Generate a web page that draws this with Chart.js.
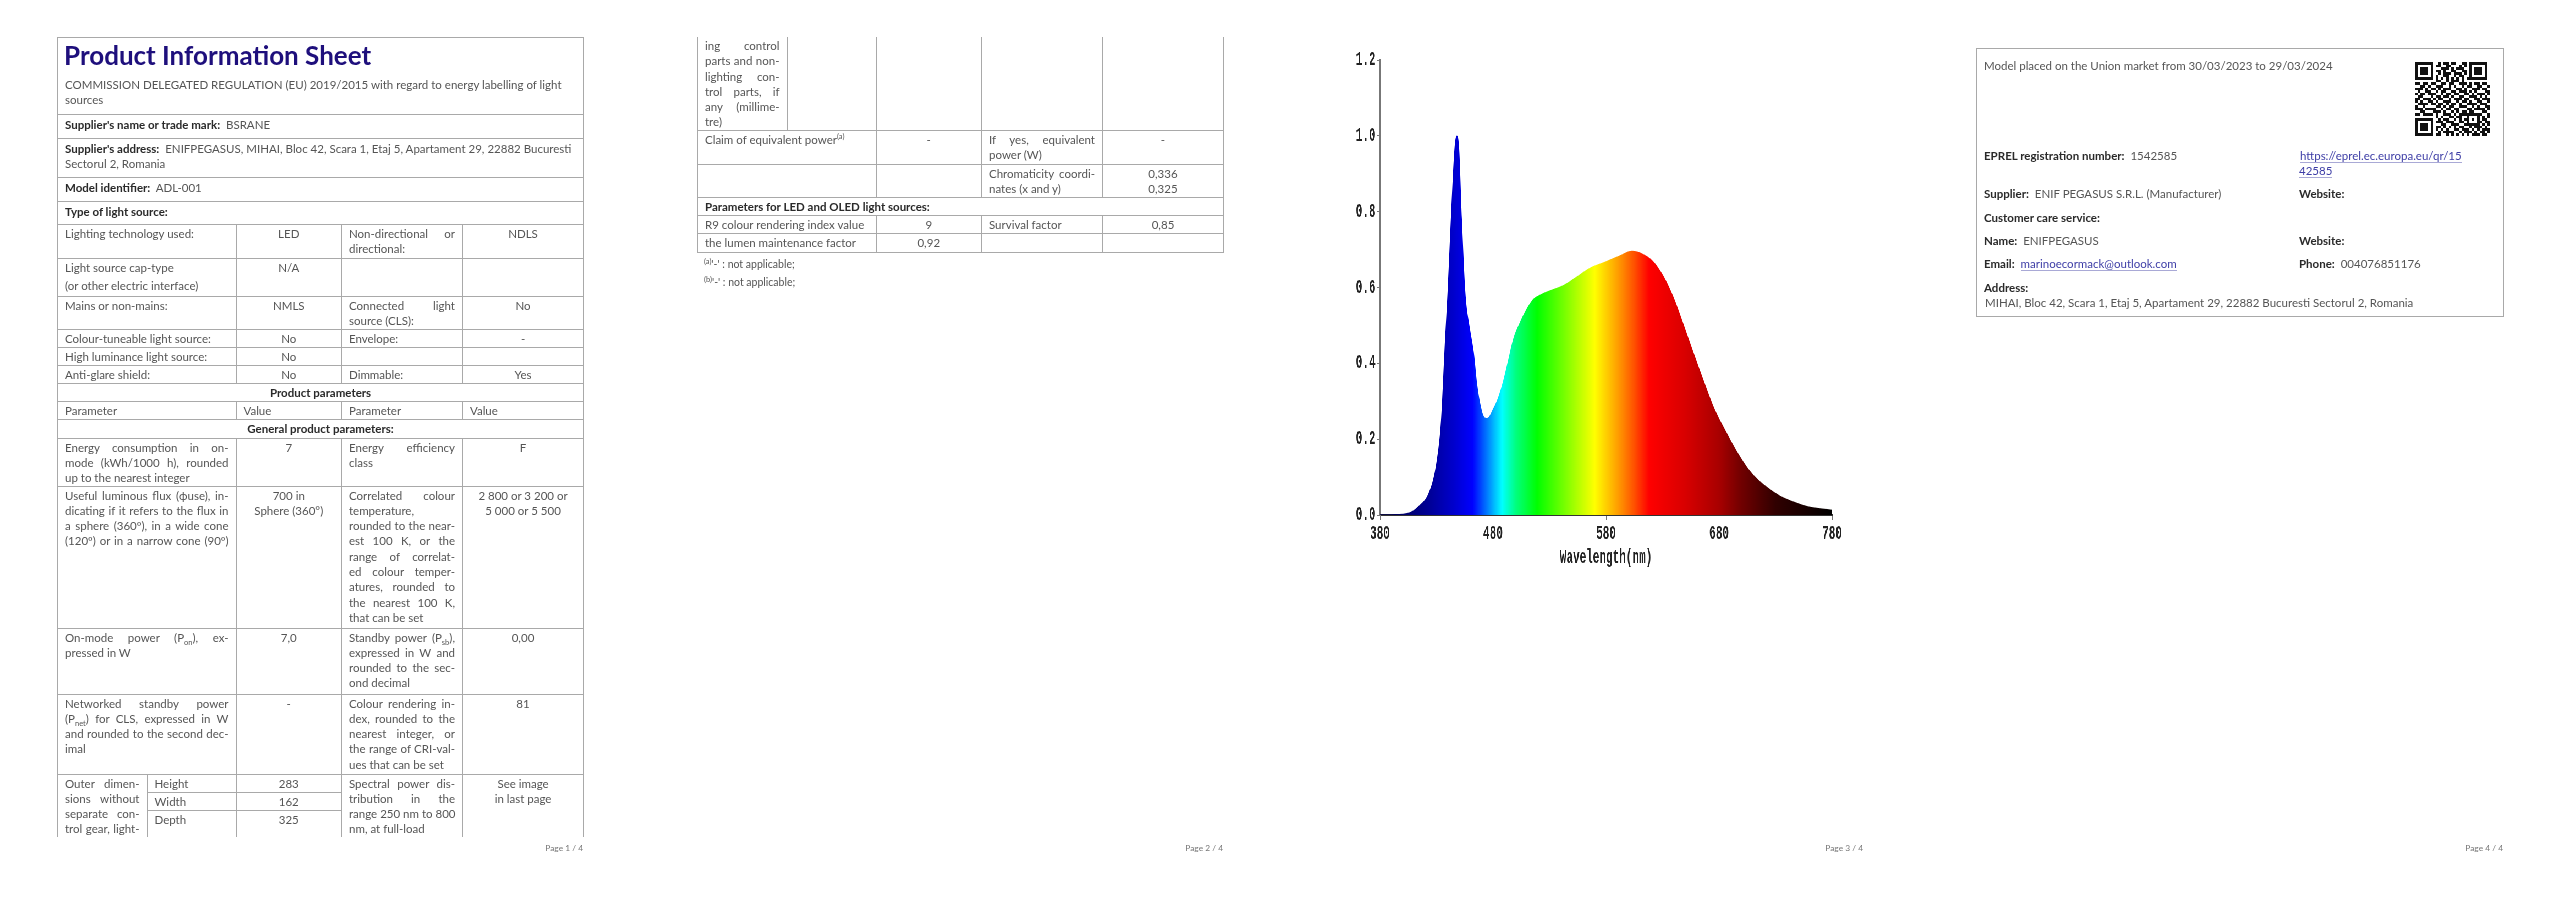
<!DOCTYPE html>
<html>
<head>
<meta charset="utf-8">
<title>Product Information Sheet</title>
<script src="https://cdn.jsdelivr.net/npm/chart.js@4"></script>
<style>
  html, body { margin: 0; padding: 0; background: #fff; width: 2560px; height: 905px; overflow: hidden; }
  #sheet { position: relative; width: 2560px; height: 905px; filter: blur(.4px);
           font: 11.5px/15.3px Lato, "Open Sans", sans-serif; color: #555; }
  .abs { position: absolute; white-space: nowrap; }
  b { color: #2a2a2a; font-weight: 700; }
  table { position: absolute; border-collapse: collapse; table-layout: fixed; width: 526px; }
  td { border: 1px solid #a9a9a9; padding: 1px 7px 0; vertical-align: top; overflow: hidden; white-space: nowrap; }
  .c { text-align: center; }
  .j { display: block; text-align: justify; text-align-last: justify; }
  .wide td { padding-top: 2px; }
  .open { border-top: none; }
  .noend td { border-bottom: none; }
  sub, sup { font-size: 7.5px; line-height: 0; }
  .page-no { font-size: 8.4px; color: #777; }
  #title { font-size: 26px; line-height: 32px; font-weight: 700; color: #1e0f7c; margin: -1px 0 6px -1px; }
  a { color: #3d3da6; text-decoration: none; border-bottom: 1px solid #a9a9d6; }
  #box { position: absolute; left: 1976px; top: 48px; width: 526px; height: 267px; border: 1px solid #a9a9a9; }
  #chart-wrap { position: absolute; left: 1320px; top: 46px; width: 1004px; height: 524px;
                transform: scaleX(.55); transform-origin: 0 0; }
  #qr { position: absolute; left: 2415px; top: 62px; width: 75px; height: 74px; }
</style>
</head>
<body>
<div id="sheet">

  <!-- page 1 -->
  <table style="left:57px;top:37px">
    <colgroup><col style="width:89.5px"><col style="width:89px"><col style="width:105.5px"><col style="width:121px"><col style="width:121px"></colgroup>
    <tr class="wide" style="height:77px"><td colspan="5"><div id="title">Product Information Sheet</div>COMMISSION DELEGATED REGULATION (EU) 2019/2015 with regard to energy labelling of light<br>sources</td></tr>
    <tr class="wide" style="height:24px"><td colspan="5"><b>Supplier's name or trade mark:</b>&nbsp; BSRANE</td></tr>
    <tr class="wide" style="height:39px"><td colspan="5"><b>Supplier's address:</b>&nbsp; ENIFPEGASUS, MIHAI, Bloc 42, Scara 1, Etaj 5, Apartament 29, 22882 Bucuresti<br>Sectorul 2, Romania</td></tr>
    <tr class="wide" style="height:24px"><td colspan="5"><b>Model identifier:</b>&nbsp; ADL-001</td></tr>
    <tr class="wide" style="height:23px"><td colspan="5"><b>Type of light source:</b></td></tr>
    <tr style="height:34px"><td colspan="2">Lighting technology used:</td><td class="c">LED</td><td><span class="j">Non-directional or</span>directional:</td><td class="c">NDLS</td></tr>
    <tr style="height:38px"><td colspan="2" style="line-height:18.4px;padding-top:0">Light source cap-type<br>(or other electric interface)</td><td class="c">N/A</td><td></td><td></td></tr>
    <tr style="height:32px"><td colspan="2">Mains or non-mains:</td><td class="c">NMLS</td><td><span class="j">Connected light</span>source (CLS):</td><td class="c">No</td></tr>
    <tr style="height:18px"><td colspan="2">Colour-tuneable light source:</td><td class="c">No</td><td>Envelope:</td><td class="c">-</td></tr>
    <tr style="height:18px"><td colspan="2">High luminance light source:</td><td class="c">No</td><td></td><td></td></tr>
    <tr style="height:18px"><td colspan="2">Anti-glare shield:</td><td class="c">No</td><td>Dimmable:</td><td class="c">Yes</td></tr>
    <tr style="height:18px"><td colspan="5" class="c"><b>Product parameters</b></td></tr>
    <tr style="height:18px"><td colspan="2">Parameter</td><td>Value</td><td>Parameter</td><td>Value</td></tr>
    <tr style="height:19px"><td colspan="5" class="c"><b>General product parameters:</b></td></tr>
    <tr style="height:48px"><td colspan="2"><span class="j">Energy consumption in on-</span><span class="j">mode (kWh/1000 h), rounded</span>up to the nearest integer</td><td class="c">7</td><td><span class="j">Energy efficiency</span>class</td><td class="c">F</td></tr>
    <tr style="height:142px"><td colspan="2"><span class="j">Useful luminous flux (&#981;use), in-</span><span class="j">dicating if it refers to the flux in</span><span class="j">a sphere (360&ordm;), in a wide cone</span><span class="j">(120&ordm;) or in a narrow cone (90&ordm;)</span></td><td class="c">700 in<br>Sphere (360&deg;)</td><td><span class="j">Correlated colour</span>temperature,<br><span class="j">rounded to the near-</span><span class="j">est 100 K, or the</span><span class="j">range of correlat-</span><span class="j">ed colour temper-</span><span class="j">atures, rounded to</span><span class="j">the nearest 100 K,</span>that can be set</td><td class="c">2 800 or 3 200 or<br>5 000 or 5 500</td></tr>
    <tr style="height:66px"><td colspan="2"><span class="j">On-mode power (P<sub>on</sub>), ex-</span>pressed in W</td><td class="c">7,0</td><td><span class="j">Standby power (P<sub>sb</sub>),</span><span class="j">expressed in W and</span><span class="j">rounded to the sec-</span>ond decimal</td><td class="c">0,00</td></tr>
    <tr style="height:80px"><td colspan="2"><span class="j">Networked standby power</span><span class="j">(P<sub>net</sub>) for CLS, expressed in W</span><span class="j">and rounded to the second dec-</span>imal</td><td class="c">-</td><td><span class="j">Colour rendering in-</span><span class="j">dex, rounded to the</span><span class="j">nearest integer, or</span><span class="j">the range of CRI-val-</span>ues that can be set</td><td class="c">81</td></tr>
    <tr class="noend" style="height:18px"><td rowspan="3"><span class="j">Outer dimen-</span><span class="j">sions without</span><span class="j">separate con-</span><span class="j">trol gear, light-</span></td><td>Height</td><td class="c">283</td><td rowspan="3"><span class="j">Spectral power dis-</span><span class="j">tribution in the</span><span class="j">range 250 nm to 800</span>nm, at full-load</td><td rowspan="3" class="c">See image<br>in last page</td></tr>
    <tr style="height:18px"><td>Width</td><td class="c">162</td></tr>
    <tr class="noend" style="height:26px"><td style="border-top:1px solid #a9a9a9">Depth</td><td class="c" style="border-top:1px solid #a9a9a9">325</td></tr>
  </table>
  <div class="abs page-no" style="right:1977px;top:841px">Page 1 / 4</div>

  <!-- page 2 -->
  <table style="left:697px;top:37px">
    <colgroup><col style="width:89.5px"><col style="width:89px"><col style="width:105.5px"><col style="width:121px"><col style="width:121px"></colgroup>
    <tr style="height:93px"><td class="open"><span class="j">ing control</span><span class="j">parts and non-</span><span class="j">lighting con-</span><span class="j">trol parts, if</span><span class="j">any (millime-</span>tre)</td><td class="open"></td><td class="open"></td><td class="open"></td><td class="open"></td></tr>
    <tr style="height:34px"><td colspan="2">Claim of equivalent power<sup>(a)</sup></td><td class="c">-</td><td><span class="j">If yes, equivalent</span>power (W)</td><td class="c">-</td></tr>
    <tr style="height:33px"><td colspan="2"></td><td></td><td><span class="j">Chromaticity coordi-</span>nates (x and y)</td><td class="c">0,336<br>0,325</td></tr>
    <tr style="height:18px"><td colspan="5"><b>Parameters for LED and OLED light sources:</b></td></tr>
    <tr style="height:18px"><td colspan="2">R9 colour rendering index value</td><td class="c">9</td><td>Survival factor</td><td class="c">0,85</td></tr>
    <tr style="height:19px"><td colspan="2">the lumen maintenance factor</td><td class="c">0,92</td><td></td><td></td></tr>
  </table>
  <div class="abs" style="left:704px;top:257px;font-size:10.5px"><sup>(a)</sup>'-' : not applicable;</div>
  <div class="abs" style="left:704px;top:275px;font-size:10.5px"><sup>(b)</sup>'-' : not applicable;</div>
  <div class="abs page-no" style="right:1337px;top:841px">Page 2 / 4</div>

  <!-- page 3 -->
  <div id="chart-wrap"><canvas id="spectrumChart" width="1004" height="524"></canvas></div>
  <div class="abs page-no" style="right:697px;top:841px">Page 3 / 4</div>

  <!-- page 4 -->
  <div id="box"></div>
  <div class="abs" style="left:1984px;top:58px">Model placed on the Union market from 30/03/2023 to 29/03/2024</div>
  <canvas id="qr" width="29" height="29" style="image-rendering:pixelated"></canvas>
  <div class="abs" style="left:1984px;top:148px"><b>EPREL registration number:</b>&nbsp; 1542585</div>
  <div class="abs" style="left:2300px;top:148px"><a>https://eprel.ec.europa.eu/qr/15</a></div>
  <div class="abs" style="left:2299px;top:163px"><a>42585</a></div>
  <div class="abs" style="left:1984px;top:186px"><b>Supplier:</b>&nbsp; ENIF PEGASUS S.R.L. (Manufacturer)</div>
  <div class="abs" style="left:2299px;top:186px"><b>Website:</b></div>
  <div class="abs" style="left:1984px;top:210px"><b>Customer care service:</b></div>
  <div class="abs" style="left:1984px;top:233px"><b>Name:</b>&nbsp; ENIFPEGASUS</div>
  <div class="abs" style="left:2299px;top:233px"><b>Website:</b></div>
  <div class="abs" style="left:1984px;top:256px"><b>Email:</b>&nbsp; <a>marinoecormack@outlook.com</a></div>
  <div class="abs" style="left:2299px;top:256px"><b>Phone:</b>&nbsp; 004076851176</div>
  <div class="abs" style="left:1984px;top:280px"><b>Address:</b></div>
  <div class="abs" style="left:1985px;top:295px">MIHAI, Bloc 42, Scara 1, Etaj 5, Apartament 29, 22882 Bucuresti Sectorul 2, Romania</div>
  <div class="abs page-no" style="right:57px;top:841px">Page 4 / 4</div>
</div>

<script>
// Spectral power distribution
const wavelengths = [380, 390, 404, 414, 424, 430, 434, 437, 440, 443, 446, 448, 450, 452.5, 455.5, 459.5, 463, 466, 469, 472, 475, 480, 484.5, 489, 493.5, 498, 503, 509, 515, 521, 530, 542, 554.5, 567, 579, 591, 603, 612, 621.5, 631, 640, 649, 658, 667, 676, 685.5, 695, 704, 713, 722, 734, 746.5, 758.5, 771, 780];
const spectralPower = [0.002, 0.002, 0.005, 0.023, 0.065, 0.14, 0.25, 0.43, 0.6, 0.8, 0.97, 1.0, 0.97, 0.78, 0.59, 0.494, 0.43, 0.345, 0.29, 0.26, 0.256, 0.28, 0.31, 0.354, 0.41, 0.466, 0.503, 0.54, 0.568, 0.58, 0.592, 0.606, 0.63, 0.654, 0.668, 0.683, 0.697, 0.69, 0.67, 0.63, 0.573, 0.5, 0.424, 0.35, 0.28, 0.224, 0.172, 0.13, 0.098, 0.075, 0.051, 0.035, 0.023, 0.017, 0.014];

// Colour under the curve at given wavelengths
const bandNm = [380, 425, 445, 462, 472, 480, 488, 500, 519, 545, 570, 590, 605, 618, 650, 680, 700, 730, 780];
const bandColor = ['#000040', '#00009a', '#0000cc', '#0000ff', '#0060ff', '#00b0ff', '#00ffff', '#00ff80', '#00ff00', '#80ff00', '#ffff00', '#ffa000', '#ff5000', '#ff0000', '#d80000', '#a80000', '#700000', '#300000', '#000000'];

const spectrumFill = (ctx) => {
  const { chart } = ctx;
  if (!chart.chartArea) return '#00f';
  const x = chart.scales.x;
  const g = chart.ctx.createLinearGradient(x.left, 0, x.right, 0);
  bandNm.forEach((nm, i) => g.addColorStop((nm - 380) / 400, bandColor[i]));
  return g;
};

const axisFont = { family: '"Liberation Mono", monospace', size: 20, weight: 'bold' };

new Chart(document.getElementById('spectrumChart'), {
  type: 'line',
  data: {
    datasets: [{
      data: wavelengths.map((w, i) => ({ x: w, y: spectralPower[i] })),
      backgroundColor: spectrumFill,
      borderWidth: 0,
      pointRadius: 0,
      fill: 'origin',
      cubicInterpolationMode: 'monotone'
    }]
  },
  options: {
    responsive: false,
    animation: false,
    layout: { padding: { top: 10, right: 73 } },
    plugins: { legend: { display: false }, tooltip: { enabled: false } },
    scales: {
      x: {
        type: 'linear', min: 380, max: 780,
        ticks: { stepSize: 100, color: '#222', font: axisFont, padding: 2, maxRotation: 0 },
        grid: { drawOnChartArea: false, color: '#777', tickLength: 5 },
        border: { color: '#333', width: 2 },
        title: { display: true, text: 'Wavelength(nm)', color: '#222', font: axisFont, padding: { top: 2, bottom: 0 } },
        afterFit: (s) => { s.height = 55; }
      },
      y: {
        min: 0, max: 1.2,
        ticks: { stepSize: 0.2, color: '#222', font: axisFont, padding: 2, callback: (v) => v.toFixed(1) },
        grid: { drawOnChartArea: false, color: '#777', tickLength: 6 },
        border: { color: '#777', width: 3 },
        afterFit: (s) => { s.width = 109; }
      }
    }
  }
});

// QR code modules, copied by eye
const qrRows = [
  '11111110010110110011011111110',
  '10000010110011000101010000010',
  '10111010001110101110010111010',
  '10111010110100110011010111010',
  '10111010010111011101010111010',
  '10000010100110010110010000010',
  '11111110101010101010111111110',
  '00000000110010111010000000000',
  '11011011001101100111010110110',
  '00110100111001010010110011001',
  '11101011010111001101001110110',
  '01001100101100110111010100011',
  '10110111001011011001101011101',
  '01100010110110100110011101010',
  '11011101011001011101100110111',
  '10100110100111001011010011001',
  '01111011011010110100111101110',
  '10010000110101100111001010011',
  '11101111001011011000110111101',
  '00110001110100101011011000110',
  '11011110100111010111111111001',
  '00000000101001101100100010101',
  '11111110010110010101101010110',
  '10000010111011100110100011011',
  '10111010001100111001111110101',
  '10111010110101010110010111010',
  '10111010101010011011101010111',
  '10000010010111100101110101101',
  '11111110110010101010101110110'
];
const qrCtx = document.getElementById('qr').getContext('2d');
qrCtx.fillStyle = '#111';
qrRows.forEach((row, r) => [...row].forEach((m, c) => { if (m === '1') qrCtx.fillRect(c, r, 1, 1); }));
</script>
</body>
</html>
